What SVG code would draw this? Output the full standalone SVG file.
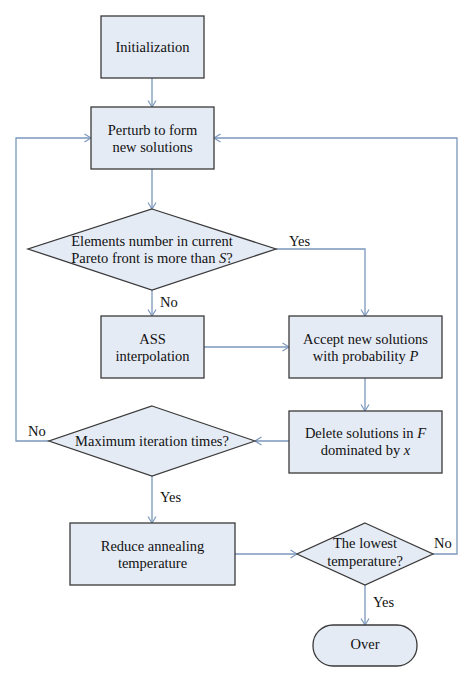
<svg xmlns="http://www.w3.org/2000/svg" width="474" height="683" viewBox="0 0 474 683">
<defs>
<marker id="ah" viewBox="0 0 10 10" refX="9.5" refY="5" markerWidth="10" markerHeight="10" markerUnits="userSpaceOnUse" orient="auto">
<path d="M3,1 L9.5,5 L3,9" fill="none" stroke="#7b97bc" stroke-width="1.2"/>
</marker>
</defs>
<style>
.n{fill:#e5ebf5;stroke:#3a3a3a;stroke-width:1.3}
.c{fill:none;stroke:#7b97bc;stroke-width:1.3}
text{font-family:'Liberation Serif','DejaVu Serif',serif;font-size:14.5px;fill:#111;text-anchor:middle}
.l{text-anchor:start}
</style>
<rect width="474" height="683" fill="#fff"/>
<g id="connectors">
<path class="c" d="M152,78 V107" marker-end="url(#ah)"/>
<path class="c" d="M152,169 V209" marker-end="url(#ah)"/>
<path class="c" d="M276,249 H365 V316" marker-end="url(#ah)"/>
<path class="c" d="M152,290 V316" marker-end="url(#ah)"/>
<path class="c" d="M204,347 H289" marker-end="url(#ah)"/>
<path class="c" d="M365,378 V411" marker-end="url(#ah)"/>
<path class="c" d="M289,441 H255" marker-end="url(#ah)"/>
<path class="c" d="M49,441 H16 V138 H91" marker-end="url(#ah)"/>
<path class="c" d="M152,476 V523" marker-end="url(#ah)"/>
<path class="c" d="M235,554 H297" marker-end="url(#ah)"/>
<path class="c" d="M433,554 H457 V138 H214" marker-end="url(#ah)"/>
<path class="c" d="M365,585 V625" marker-end="url(#ah)"/>
<text class="l" x="289" y="246">Yes</text>
<text class="l" x="160" y="307">No</text>
<text class="l" x="28" y="436">No</text>
<text class="l" x="160" y="502">Yes</text>
<text class="l" x="434" y="548">No</text>
<text class="l" x="373" y="607">Yes</text>
</g>
<g id="init">
<rect class="n" x="101" y="16" width="103" height="62"/>
<text x="152.5" y="52">Initialization</text>
</g>
<g id="perturb">
<rect class="n" x="91" y="107" width="123" height="62"/>
<text x="152.5" y="135">Perturb to form</text>
<text x="152.5" y="152">new solutions</text>
</g>
<g id="elements">
<polygon class="n" points="152,209 276,249 152,290 28,249"/>
<text x="152" y="246">Elements number in current</text>
<text x="152" y="263">Pareto front is more than <tspan font-style="italic">S</tspan>?</text>
</g>
<g id="ass">
<rect class="n" x="101" y="316" width="103" height="62"/>
<text x="152.5" y="344">ASS</text>
<text x="152.5" y="361">interpolation</text>
</g>
<g id="accept">
<rect class="n" x="289" y="316" width="153" height="62"/>
<text x="365.5" y="344">Accept new solutions</text>
<text x="365.5" y="361">with probability <tspan font-style="italic">P</tspan></text>
</g>
<g id="delete">
<rect class="n" x="289" y="411" width="153" height="62"/>
<text x="365.5" y="438">Delete solutions in <tspan font-style="italic">F</tspan></text>
<text x="365.5" y="455">dominated by <tspan font-style="italic">x</tspan></text>
</g>
<g id="maxiter">
<polygon class="n" points="152,406 255,441 152,476 49,441"/>
<text x="152" y="446">Maximum iteration times?</text>
</g>
<g id="reduce">
<rect class="n" x="70" y="523" width="165" height="62"/>
<text x="152.5" y="551">Reduce annealing</text>
<text x="152.5" y="568">temperature</text>
</g>
<g id="lowest">
<polygon class="n" points="365,523 433,554 365,585 297,554"/>
<text x="365" y="548">The lowest</text>
<text x="365" y="566">temperature?</text>
</g>
<g id="over">
<rect class="n" x="313" y="625" width="104" height="41" rx="20" ry="20"/>
<text x="365" y="649">Over</text>
</g>
</svg>
